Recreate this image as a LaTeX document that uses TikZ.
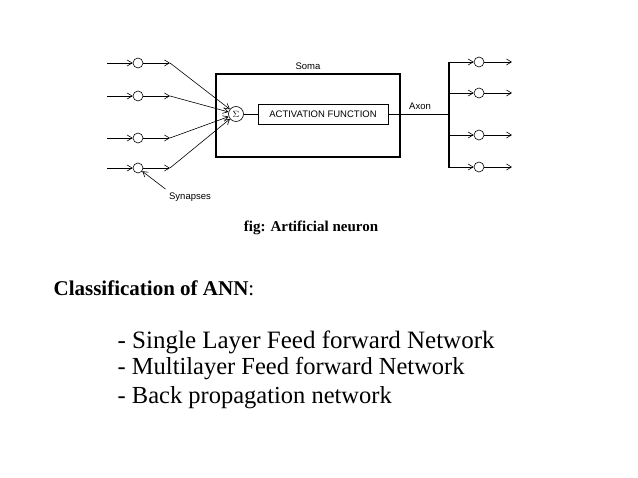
\documentclass[tikz,border=0pt]{standalone}
\usepackage{fontspec}
\setmainfont{Liberation Serif}
\newfontfamily\diagfont{Liberation Sans}
\usetikzlibrary{positioning,arrows.meta}
\begin{document}
\begin{tikzpicture}[x=1pt, y=-1pt, line width=0.6pt,
                    >={Straight Barb[length=5pt,width=6pt]},
                    syn/.style={circle, draw, inner sep=0pt, minimum size=10pt},
                    every node/.style={font=\diagfont\fontsize{9.5}{11}\selectfont}]
  \useasboundingbox (0,0) rectangle (638,478);
  % soma and activation
  \node[draw, line width=1.8pt, minimum width=184pt, minimum height=83pt] (soma) at (308,115.5) {};
  \node[above=0pt of soma] (somalabel) {Soma};
  \node[draw, minimum width=130pt, minimum height=20pt, inner sep=1pt] (act) at (323,114) {ACTIVATION FUNCTION};
  \node[circle, draw, inner sep=0pt, minimum size=15pt] (sum) at (236,114) {$\Sigma$};
  \draw (sum) -- (act);
  % inputs
  \foreach \i/\y in {1/63, 2/96, 3/138, 4/168} {
    \coordinate (in\i) at (107,\y);
    \node[syn] (s\i) at (138,\y) {};
    \coordinate (e\i) at (170,\y);
    \draw[->] (in\i) -- (s\i);
    \draw[->] (s\i) -- (e\i);
    \draw[->] (e\i) -- (sum);
  }
  \node (synlabel) at (190,197) {Synapses};
  \draw[->] (synlabel.north west) -- (s4);
  % axon
  \coordinate (top) at (449,62);
  \coordinate (bot) at (449,168);
  \coordinate (mid) at (449,114);
  \draw (act) -- (mid);
  \node (axon) at (420,106) {Axon};
  \draw[line width=1.5pt] (top) -- (bot);
  \foreach \i/\y in {1/62, 2/93, 3/135, 4/167} {
    \coordinate (b\i) at (449,\y);
    \node[syn] (o\i) at (479,\y) {};
    \coordinate (f\i) at (512,\y);
    \draw[->] (b\i) -- (o\i);
    \draw[->] (o\i) -- (f\i);
  }
  % texts
  \node[font=\bfseries\fontsize{15}{18}\selectfont] (fig) at (311,228) {fig: Artificial neuron};
  \node[anchor=west, font=\fontsize{21}{25}\selectfont] (cls) at (50,288) {\textbf{Classification of ANN}:};
  \node[anchor=west, font=\fontsize{25}{30}\selectfont] (l1) at (114,342) {- Single Layer Feed forward Network};
  \node[anchor=west, font=\fontsize{24.5}{29}\selectfont] (l2) at (114,369) {- Multilayer Feed forward Network};
  \node[anchor=west, font=\fontsize{24.5}{29}\selectfont] (l3) at (114,398) {- Back propagation network};
\end{tikzpicture}
\end{document}
